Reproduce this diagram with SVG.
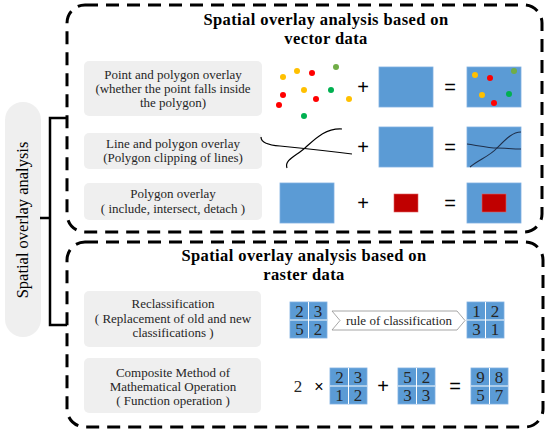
<svg xmlns="http://www.w3.org/2000/svg" width="550" height="435" viewBox="0 0 550 435">
<style>
text{font-family:"Liberation Serif","DejaVu Serif",serif;fill:#262626}
.title{font-size:16.5px;font-weight:bold;fill:#000;text-anchor:middle;letter-spacing:0.4px}
.lbl{font-size:13px;text-anchor:middle}
.dash{fill:none;stroke:#000;stroke-width:3;stroke-dasharray:13 8}
.gbox{fill:#efefef}
.blue{fill:#5b9bd5;stroke:#7fb0e0;stroke-width:0.8}
.red{fill:#c00000;stroke:#e06060;stroke-width:0.6}
.op{font-family:"Liberation Sans","DejaVu Sans",sans-serif;font-size:20px;text-anchor:middle;fill:#000}
.num{font-size:17px;text-anchor:middle;fill:#262626}
.cl{stroke:#fff;stroke-width:1}
.y{fill:#ffc000}.r{fill:#ff0000}.g{fill:#00b050}.o{fill:#70ad47}
.ln{fill:none;stroke:#000;stroke-width:1.2}
.ln2{fill:none;stroke:#1f2f4a;stroke-width:1.1}
</style>

<g id="root">
<rect x="5" y="102" width="36" height="235" rx="18" class="gbox"/>
<text transform="translate(28,220) rotate(-90)" style="font-size:16.5px;text-anchor:middle;fill:#000">Spatial overlay analysis</text>
</g>

<g id="connectors">
<path d="M67,118 H50 V325 H67 M40,218 H50" fill="none" stroke="#000" stroke-width="2.5"/>
</g>

<g id="vector-group">
<rect x="67" y="5" width="475" height="227" rx="18" class="dash"/>
<text class="title" x="326" y="25">Spatial overlay analysis based on</text>
<text class="title" x="326" y="44">vector data</text>
</g>

<g id="point-polygon">
<rect x="84" y="61" width="178" height="55" rx="5" class="gbox"/>
<text class="lbl" x="173" y="79">Point and polygon overlay</text>
<text class="lbl" x="173" y="93">(whether the point falls inside</text>
<text class="lbl" x="173" y="107">the polygon)</text>
<circle class="y" cx="283" cy="77" r="3"/>
<circle class="y" cx="297" cy="71" r="3"/>
<circle class="r" cx="312" cy="73" r="3"/>
<circle class="o" cx="336" cy="67" r="3"/>
<circle class="r" cx="283" cy="95" r="3"/>
<circle class="y" cx="304" cy="90" r="3"/>
<circle class="g" cx="331" cy="90" r="3"/>
<circle class="r" cx="316" cy="99" r="3"/>
<circle class="y" cx="349" cy="99" r="3"/>
<circle class="r" cx="279" cy="105" r="3"/>
<circle class="g" cx="304" cy="116" r="3"/>
<text class="op" x="363" y="94">+</text>
<rect class="blue" x="379" y="67" width="54" height="40"/>
<text class="op" x="450" y="94">=</text>
<rect class="blue" x="467" y="67" width="54" height="40"/>
<circle class="y" cx="475" cy="75" r="3"/>
<circle class="r" cx="490" cy="78" r="3"/>
<circle class="o" cx="514" cy="71" r="3"/>
<circle class="y" cx="482" cy="95" r="3"/>
<circle class="g" cx="509" cy="94" r="3"/>
<circle class="r" cx="494" cy="103" r="3"/>
</g>

<g id="line-polygon">
<rect x="84" y="133" width="178" height="36" rx="5" class="gbox"/>
<text class="lbl" x="173" y="148">Line and polygon overlay</text>
<text class="lbl" x="173" y="162">(Polygon clipping of lines)</text>
<path class="ln" d="M261,137 C261,142 266,145 280,146 C300,148 320,150 352,154"/>
<path class="ln" d="M287,168 C284,160 296,156 305,148 C315,139 325,128 342,129"/>
<text class="op" x="363" y="154">+</text>
<rect class="blue" x="379" y="127" width="54" height="40"/>
<text class="op" x="450" y="154">=</text>
<rect class="blue" x="467" y="127" width="54" height="40"/>
<path class="ln2" d="M467,144 C480,146 490,148 497,148 C505,148 512,149 521,149"/>
<path class="ln2" d="M470,167 C478,160 490,156 497,148 C505,140 512,132 521,132"/>
</g>

<g id="polygon-overlay">
<rect x="84" y="183" width="178" height="37" rx="5" class="gbox"/>
<text class="lbl" x="173" y="198">Polygon overlay</text>
<text class="lbl" x="173" y="213">( include, intersect, detach )</text>
<rect class="blue" x="280" y="183" width="54" height="40"/>
<text class="op" x="363" y="210">+</text>
<rect class="red" x="394" y="194" width="24" height="18"/>
<text class="op" x="450" y="210">=</text>
<rect class="blue" x="467" y="183" width="54" height="40"/>
<rect class="red" x="482" y="194" width="24" height="18"/>
</g>

<g id="raster-group">
<rect x="67" y="242" width="476" height="185" rx="18" class="dash"/>
<text class="title" x="304" y="261">Spatial overlay analysis based on</text>
<text class="title" x="304" y="280">raster data</text>
</g>

<g id="reclassification">
<rect x="84" y="291" width="177" height="56" rx="5" class="gbox"/>
<text class="lbl" x="173" y="308">Reclassification</text>
<text class="lbl" x="173" y="323">( Replacement of old and new</text>
<text class="lbl" x="173" y="337">classifications )</text>
<rect class="blue" x="290" y="302" width="37" height="36"/>
<path class="cl" d="M308.5,302 V338 M290,320 H327"/>
<text class="num" x="299.5" y="317">2</text><text class="num" x="318" y="317">3</text>
<text class="num" x="299.5" y="335">5</text><text class="num" x="318" y="335">2</text>
<path d="M332,311 H457 L465,320.5 L457,330 H332 L340,320.5 Z" fill="#fff" stroke="#909090" stroke-width="0.8"/>
<text x="399" y="325" style="font-size:13px;text-anchor:middle">rule of classification</text>
<rect class="blue" x="467" y="302" width="37" height="36"/>
<path class="cl" d="M485.5,302 V338 M467,320 H504"/>
<text class="num" x="476.5" y="317">1</text><text class="num" x="495" y="317">2</text>
<text class="num" x="476.5" y="335">3</text><text class="num" x="495" y="335">1</text>
</g>

<g id="composite">
<rect x="84" y="358" width="177" height="55" rx="5" class="gbox"/>
<text class="lbl" x="173" y="377">Composite Method of</text>
<text class="lbl" x="173" y="391">Mathematical Operation</text>
<text class="lbl" x="173" y="405">( Function operation )</text>
<text class="num" x="298" y="392">2</text>
<text class="op" x="319" y="392" style="font-size:16px">×</text>
<rect class="blue" x="330" y="368" width="37" height="36"/>
<path class="cl" d="M348.5,368 V404 M330,386 H367"/>
<text class="num" x="339.5" y="383">2</text><text class="num" x="358" y="383">3</text>
<text class="num" x="339.5" y="401">1</text><text class="num" x="358" y="401">2</text>
<text class="op" x="383" y="393">+</text>
<rect class="blue" x="398" y="368" width="37" height="36"/>
<path class="cl" d="M416.5,368 V404 M398,386 H435"/>
<text class="num" x="407.5" y="383">5</text><text class="num" x="426" y="383">2</text>
<text class="num" x="407.5" y="401">3</text><text class="num" x="426" y="401">3</text>
<text class="op" x="455" y="393">=</text>
<rect class="blue" x="471" y="368" width="37" height="36"/>
<path class="cl" d="M489.5,368 V404 M471,386 H508"/>
<text class="num" x="480.5" y="383">9</text><text class="num" x="499" y="383">8</text>
<text class="num" x="480.5" y="401">5</text><text class="num" x="499" y="401">7</text>
</g>
</svg>
